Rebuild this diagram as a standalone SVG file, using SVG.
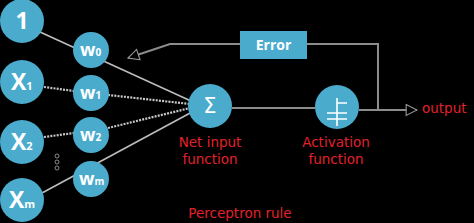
<svg xmlns="http://www.w3.org/2000/svg" width="474" height="223" viewBox="0 0 474 223">
<defs>
<style>
.node{fill:#4aabcd}
.lbl{fill:#ffffff;font-family:"Open Sans","DejaVu Sans",sans-serif;font-weight:bold}
.red{fill:#e3202c;font-family:"DejaVu Sans",sans-serif;font-size:13.5px;text-anchor:middle}
.ln{stroke:#bdbdbd;stroke-width:1.6;fill:none}
.dash{stroke:#c8c8c8;stroke-width:2.2;stroke-dasharray:2 1.2;fill:none}
.gray{stroke:#8c8c8c;stroke-width:2;fill:none}
.glyph{stroke:#ffffff;stroke-width:1.6;fill:none}
</style>
<marker id="open" viewBox="0 0 12 12" refX="11" refY="6" markerWidth="13" markerHeight="13" markerUnits="userSpaceOnUse" orient="auto">
<path d="M1,1 L11,6 L1,11 Z" fill="#000" stroke="#9a9a9a" stroke-width="1"/>
</marker>
</defs>
<rect width="474" height="223" fill="#000"/>
<g id="connectors">
<line class="ln" x1="40" y1="32" x2="191" y2="101"/>
<line class="dash" x1="44" y1="87" x2="74" y2="91"/>
<line class="dash" x1="108" y1="95" x2="190" y2="104"/>
<line class="dash" x1="44" y1="137" x2="74" y2="133"/>
<line class="dash" x1="108" y1="128" x2="190" y2="108"/>
<line class="ln" x1="42" y1="193" x2="192" y2="112"/>
<line class="gray" x1="232" y1="108" x2="315" y2="108"/>
<polyline class="gray" points="378,110 378,44 307,44"/>
<line class="gray" x1="359" y1="110" x2="417" y2="110" marker-end="url(#open)"/>
<polyline class="gray" points="240,44 170,44 128,58" marker-end="url(#open)"/>
<circle cx="57" cy="156" r="2" fill="none" stroke="#aaa" stroke-width="0.8"/>
<circle cx="57" cy="162" r="2" fill="none" stroke="#aaa" stroke-width="0.8"/>
<circle cx="57" cy="168" r="2" fill="none" stroke="#aaa" stroke-width="0.8"/>
</g>
<g id="in1"><circle class="node" cx="22" cy="21" r="22"/><text class="lbl" x="22" y="29" font-size="23" text-anchor="middle">1</text></g>
<g id="x1"><circle class="node" cx="22" cy="82" r="22"/><text class="lbl" x="11" y="90" font-size="23">X<tspan font-size="11">1</tspan></text></g>
<g id="x2"><circle class="node" cx="22" cy="142" r="22"/><text class="lbl" x="11" y="150" font-size="23">X<tspan font-size="11">2</tspan></text></g>
<g id="xm"><circle class="node" cx="22" cy="200" r="22"/><text class="lbl" x="9" y="208" font-size="23">X<tspan font-size="11">m</tspan></text></g>
<g id="w0"><circle class="node" cx="91" cy="50" r="18"/><text class="lbl" x="80" y="56" font-size="18">w<tspan font-size="10">0</tspan></text></g>
<g id="w1"><circle class="node" cx="91" cy="93" r="18"/><text class="lbl" x="80" y="99" font-size="18">w<tspan font-size="10">1</tspan></text></g>
<g id="w2"><circle class="node" cx="91" cy="135" r="18"/><text class="lbl" x="80" y="141" font-size="18">w<tspan font-size="10">2</tspan></text></g>
<g id="wm"><circle class="node" cx="91" cy="179" r="18"/><text class="lbl" x="79" y="185" font-size="18">w<tspan font-size="10">m</tspan></text></g>
<g id="sum"><circle class="node" cx="210" cy="106" r="22"/><text x="210" y="113" font-size="21" fill="#fff" font-family="DejaVu Sans,sans-serif" text-anchor="middle">Σ</text></g>
<g id="act"><circle class="node" cx="337" cy="107" r="22"/>
<path class="glyph" d="M337,98 V126 M337,103 H347 M327,113 H347 M327,119 H347"/></g>
<g id="error"><rect x="240" y="31" width="67" height="28" class="node"/><text class="lbl" x="273.5" y="50" font-size="14" text-anchor="middle">Error</text></g>
<text class="red" x="210" y="147">Net input</text>
<text class="red" x="210" y="164">function</text>
<text class="red" x="336" y="147">Activation</text>
<text class="red" x="336" y="164">function</text>
<text class="red" x="422" y="113" style="text-anchor:start">output</text>
<text class="red" x="240" y="218" font-size="14.5">Perceptron rule</text>
</svg>
